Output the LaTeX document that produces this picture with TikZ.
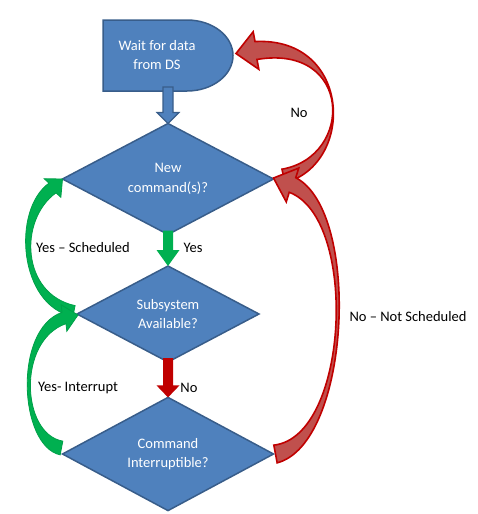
\documentclass[tikz,border=0pt]{standalone}
\usepackage{fontspec}
\setmainfont{Carlito}
\usetikzlibrary{calc,shapes.geometric}
\definecolor{boxblue}{RGB}{79,129,189}
\definecolor{boxline}{RGB}{56,93,138}
\definecolor{okgreen}{RGB}{0,176,80}
\definecolor{okgreenline}{RGB}{0,160,72}
\definecolor{nored}{RGB}{192,0,0}
\definecolor{ribred}{RGB}{192,80,77}
% straight block arrow: #1 style, #2 from, #3 to, #4 head length, #5 half head width
\newcommand\blockdown[5]{%
  \path[#1] ($(#2)+(-5,-4)$) -- ($(#3)+(-5,-#4)$) -- ($(#3)+(-#5,-#4)$) -- (#3)
    -- ($(#3)+(#5,-#4)$) -- ($(#3)+(5,-#4)$) -- ($(#2)+(5,-4)$) -- cycle;}
% curved ribbon arrow along (rP0) .. (rP1) and (rP2) .. (rB), tip (rT)
% #1 style, #2 tail half width, #3 control offset, #4 base half width, #5 head half width
\newcommand\ribbonarrow[5]{%
  \filldraw[#1] ($(rP0)!#2!90:(rP1)$)
    .. controls ($(rP1)!#3!-90:(rP0)$) and ($(rP2)!#3!90:(rB)$) .. ($(rB)!#4!-90:(rP2)$)
    -- ($(rB)!#5!90:(rT)$) -- (rT) -- ($(rB)!#5!-90:(rT)$)
    -- ($(rB)!#4!90:(rP2)$)
    .. controls ($(rP2)!#3!-90:(rB)$) and ($(rP1)!#3!90:(rP0)$) .. ($(rP0)!#2!-90:(rP1)$)
    -- cycle;}
\begin{document}
\begin{tikzpicture}[x=1pt,y=-1pt,
  decision/.style={diamond, draw=boxline, fill=boxblue, line width=1.5pt,
    inner sep=0pt, outer sep=0pt, text=white, align=center,
    font=\fontsize{14.5}{19.5}\selectfont},
  lbl/.style={text=black, inner sep=0pt, font=\fontsize{14.5}{17}\selectfont},
  redrib/.style={fill=ribred, draw=nored, line width=1.6pt, line join=miter},
  greenrib/.style={fill=okgreen, draw=okgreenline, line width=0.8pt, line join=miter},
]
\useasboundingbox (0,0) rectangle (477,514);

% start: delay shape
\node[minimum width=130pt, minimum height=71pt, inner sep=0pt, outer sep=0pt] (wait) at (168,55.5) {};
\draw[fill=boxblue, draw=boxline, line width=1.5pt] (103,20) -- (187,20)
  .. controls (212.4,20) and (233,35.9) .. (233,55.5)
  .. controls (233,75.1) and (212.4,91) .. (187,91) -- (103,91) -- cycle;
\node[text=white, align=center, inner sep=0pt, font=\fontsize{14.5}{19.5}\selectfont] (waittext) at (157,55) {Wait for data\\from DS};

% decisions
\node[decision, minimum width=211pt, minimum height=99pt] (d1) at (168,179) {New\\command(s)?};
\node[decision, minimum width=182pt, minimum height=96pt] (d2) at (168,314) {Subsystem\\Available?};
\node[decision, minimum width=211pt, minimum height=98pt] (d3) at (168,454) {Command\\Interruptible?};

% straight arrows
\blockdown{fill=boxblue, draw=boxline, line width=1.2pt}{wait.south}{d1.north}{11}{11}
\blockdown{fill=okgreen}{d1.south}{d2.north}{16}{11.5}
\blockdown{fill=nored}{d2.south}{d3.north}{12}{11.5}

% curved arrows
% No: d1 -> wait
\coordinate (rP0) at ($(d1.east)+(10,-3)$);
\coordinate (rP1) at (355,160);
\coordinate (rP2) at (352,40);
\coordinate (rB) at ($(wait.east)+(23,-5)$);
\coordinate (rT) at ($(wait.east)+(3,-2)$);
\ribbonarrow{redrib}{7pt}{3.5pt}{9pt}{19pt}

% No - Not Scheduled: d3 -> d1
\coordinate (rP0) at ($(d3.east)+(2,0)$);
\coordinate (rP1) at (350,440);
\coordinate (rP2) at (360,215);
\coordinate (rB) at ($(d1.east)+(19,6)$);
\coordinate (rT) at ($(d1.east)+(0,-1)$);
\ribbonarrow{redrib}{9pt}{3.5pt}{8pt}{18pt}

% Yes - Scheduled: d2 -> d1
\coordinate (rP0) at ($(d2.west)+(-3,-3)$);
\coordinate (rP1) at (20,300);
\coordinate (rP2) at (15,215);
\coordinate (rB) at ($(d1.west)+(-10,9)$);
\coordinate (rT) at (d1.west);
\ribbonarrow{greenrib}{5.5pt}{6pt}{6pt}{12.5pt}

% Yes - Interrupt: d3 -> d2
\coordinate (rP0) at ($(d3.west)+(-1,-6)$);
\coordinate (rP1) at (20,440);
\coordinate (rP2) at (15,335);
\coordinate (rB) at ($(d2.west)+(-13,4)$);
\coordinate (rT) at ($(d2.west)+(1,1)$);
\ribbonarrow{greenrib}{7pt}{6pt}{6pt}{13.5pt}

% labels
\node[lbl] (lno) at (299,113) {No};
\node[lbl] (lys) at (83,248) {Yes – Scheduled};
\node[lbl] (lyes) at (193,248) {Yes};
\node[lbl] (lyi) at (78,388) {Yes- Interrupt};
\node[lbl] (lno2) at (189,388) {No};
\node[lbl] (lnns) at (408,317) {No – Not Scheduled};
\end{tikzpicture}
\end{document}
